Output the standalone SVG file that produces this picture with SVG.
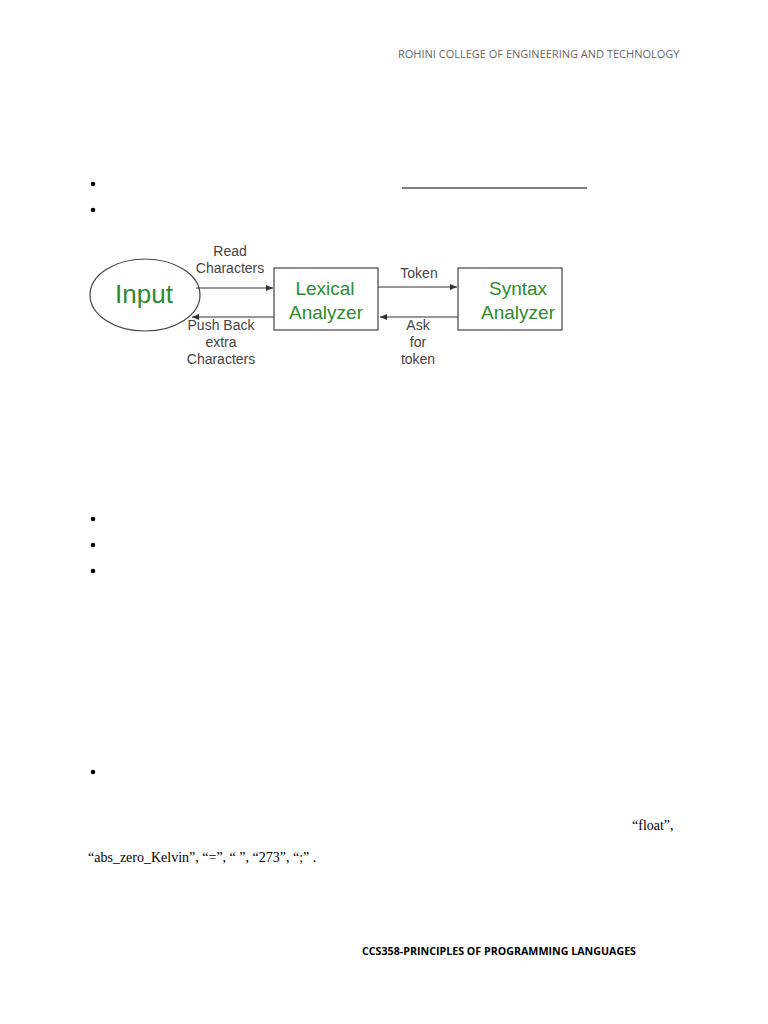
<svg xmlns="http://www.w3.org/2000/svg" width="768" height="1024" viewBox="0 0 768 1024">
<defs>
<marker id="ah" markerWidth="8" markerHeight="8" refX="7" refY="4" orient="auto" markerUnits="userSpaceOnUse"><path d="M0,1 L7,4 L0,7 Z" fill="#333"/></marker>
<style>
.hd{font-family:"Open Sans","Liberation Sans",sans-serif;font-size:11px;fill:#666}
.ft{font-family:"Open Sans","Liberation Sans",sans-serif;font-size:10.8px;fill:#000}
.lb{font-family:"Liberation Sans",Arial,sans-serif;font-size:14px;fill:#444;text-anchor:middle}
.nd{font-family:"Liberation Sans",Arial,sans-serif;fill:#2e8b2e;text-anchor:middle}
.sh{fill:#fff;stroke:#444;stroke-width:1.2}
.ln{stroke:#333;stroke-width:1.2;fill:none;marker-end:url(#ah)}
.tx{font-family:"Liberation Serif",serif;font-size:14px;fill:#000}
</style>
</defs>
<rect width="768" height="1024" fill="#fff"/>
<text class="hd" x="398" y="58">ROHINI COLLEGE OF ENGINEERING AND TECHNOLOGY</text>
<g fill="#000">
<circle cx="93" cy="184" r="2.3"/><circle cx="93" cy="210" r="2.3"/>
<circle cx="93" cy="519" r="2.3"/><circle cx="93" cy="545" r="2.3"/><circle cx="93" cy="571" r="2.3"/>
<circle cx="93" cy="772" r="2.3"/>
</g>
<line x1="402" y1="188" x2="587" y2="188" stroke="#000" stroke-width="1"/>
<g id="input"><ellipse class="sh" cx="145" cy="295" rx="55" ry="36"/><text class="nd" x="144" y="303" font-size="26">Input</text></g>
<g id="lexical"><rect class="sh" x="274" y="268" width="104" height="62"/><text class="nd" x="325" y="295" font-size="19">Lexical</text><text class="nd" x="326" y="319" font-size="19">Analyzer</text></g>
<g id="syntax"><rect class="sh" x="458" y="268" width="104" height="62"/><text class="nd" x="518" y="295" font-size="19">Syntax</text><text class="nd" x="518" y="319" font-size="19">Analyzer</text></g>
<g id="connectors">
<line class="ln" x1="196" y1="288" x2="273" y2="288"/>
<line class="ln" x1="274" y1="317" x2="192" y2="317"/>
<line class="ln" x1="378" y1="287" x2="457" y2="287"/>
<line class="ln" x1="458" y1="317" x2="380" y2="317"/>
</g>
<text class="lb" x="230" y="256">Read</text>
<text class="lb" x="230" y="273">Characters</text>
<text class="lb" x="419" y="278">Token</text>
<text class="lb" x="221" y="330">Push Back</text>
<text class="lb" x="221" y="347">extra</text>
<text class="lb" x="221" y="364">Characters</text>
<text class="lb" x="418" y="330">Ask</text>
<text class="lb" x="418" y="347">for</text>
<text class="lb" x="418" y="364">token</text>
<text class="tx" x="632" y="830">“float”,</text>
<text class="tx" x="88" y="862">“abs_zero_Kelvin”, “=”, “ ”, “273”, “;” .</text>
<text class="ft" x="362" y="955" font-weight="bold" textLength="274" lengthAdjust="spacingAndGlyphs">CCS358-PRINCIPLES OF PROGRAMMING LANGUAGES</text>
</svg>
